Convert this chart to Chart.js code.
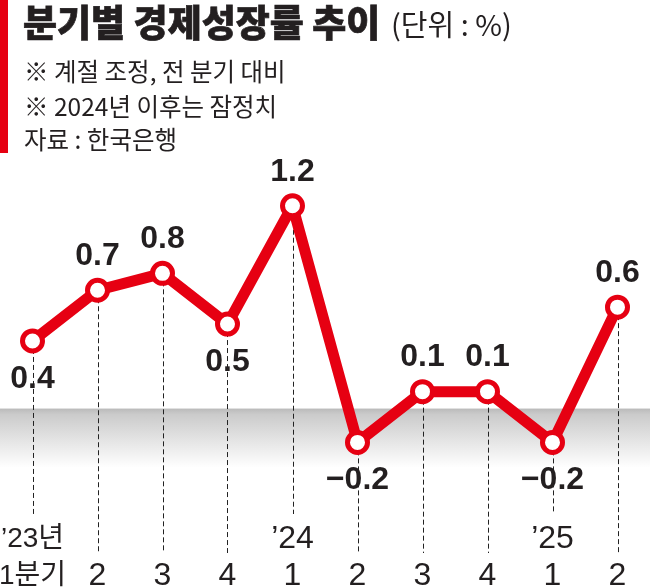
<!DOCTYPE html>
<html><head><meta charset="utf-8">
<script src="https://cdn.jsdelivr.net/npm/chart.js@4.4.1/dist/chart.umd.min.js"></script>
<style>
html,body{margin:0;padding:0;background:#fff;}
#wrap{position:relative;width:650px;height:587px;overflow:hidden;background:#fff;}
canvas{position:absolute;left:0;top:0;}
.h{position:absolute;white-space:nowrap;color:#231f20;font-family:"Noto Sans CJK KR","Noto Sans",sans-serif;}
</style></head><body>
<div id="wrap">
<canvas id="c" width="650" height="614"></canvas>
<div class="h" style="left:0;top:0;width:8px;height:153px;background:#e60012"></div>
<div class="h" style="left:23px;top:-1px;font-size:37px;line-height:44px;font-weight:900;-webkit-text-stroke:0.7px #231f20;">분기별 경제성장률 추이</div>
<div class="h" style="left:391px;top:0;font-size:29px;line-height:46px;">(단위 : %)</div>
<div class="h" style="left:24px;top:56px;font-size:24.5px;line-height:30px;">※ 계절 조정, 전 분기 대비</div>
<div class="h" style="left:24px;top:91px;font-size:24.5px;line-height:30px;">※ 2024년 이후는 잠정치</div>
<div class="h" style="left:24px;top:124px;font-size:24.5px;line-height:30px;">자료 : 한국은행</div>
</div>
<script>
const yearLabels = ['’23년', '', '', '', '’24', '', '', '', '’25', ''];
const quarterLabels = ['1분기', '2', '3', '4', '1', '2', '3', '4', '1', '2'];
const growth = [0.4, 0.7, 0.8, 0.5, 1.2, -0.2, 0.1, 0.1, -0.2, 0.6];

const RED = '#e60012';
const INK = '#231f20';

function fmt(v){ return v < 0 ? '\u2212' + Math.abs(v).toFixed(1) : v.toFixed(1); }

const decor = {
  id: 'decor',
  beforeDatasetsDraw(chart){
    const ctx = chart.ctx, ys = chart.scales.y, xs = chart.scales.x;
    const y0 = ys.getPixelForValue(0), y1 = ys.getPixelForValue(-0.35);
    const g = ctx.createLinearGradient(0, y0, 0, y1);
    g.addColorStop(0, '#bababa');
    g.addColorStop(0.1, '#cbcbcb');
    g.addColorStop(1, '#ffffff');
    ctx.save();
    ctx.fillStyle = g;
    ctx.fillRect(0, y0, chart.width, y1 - y0);
    const meta = chart.getDatasetMeta(0);
    ctx.strokeStyle = '#222';
    ctx.lineWidth = 1;
    ctx.setLineDash([5, 3]);
    meta.data.forEach((pt, i) => {
      const end = yearLabels[i] ? xs.top + 4 : xs.top + 43;
      const px = Math.round(pt.x) + 0.5;
      ctx.beginPath();
      ctx.moveTo(px, pt.y);
      ctx.lineTo(px, end);
      ctx.stroke();
    });
    ctx.restore();
  },
  afterDatasetsDraw(chart){
    const ctx = chart.ctx;
    const meta = chart.getDatasetMeta(0);
    ctx.save();
    ctx.fillStyle = INK;
    ctx.font = 'bold 32px "Liberation Sans", Arial, sans-serif';
    ctx.textAlign = 'center';
    ctx.textBaseline = 'middle';
    meta.data.forEach((pt, i) => {
      const v = growth[i];
      const prev = i > 0 ? growth[i - 1] : Infinity;
      const next = i < growth.length - 1 ? growth[i + 1] : -Infinity;
      const below = v < next && v < prev;
      const y = below ? pt.y + 38 : pt.y - 34;
      ctx.fillText(fmt(v), pt.x, y);
    });
    ctx.restore();
  }
};

new Chart(document.getElementById('c'), {
  type: 'line',
  data: {
    labels: quarterLabels.map((q, i) => [yearLabels[i], q]),
    datasets: [{
      data: growth,
      borderColor: RED,
      borderWidth: 11,
      tension: 0,
      borderJoinStyle: 'round',
      pointRadius: 10,
      pointBorderWidth: 5,
      pointBackgroundColor: '#ffffff',
      pointBorderColor: RED,
      fill: false
    }]
  },
  options: {
    responsive: false,
    animation: false,
    events: [],
    layout: { autoPadding: false, padding: { top: 155, bottom: 8, left: 0, right: 0 } },
    plugins: { legend: { display: false }, tooltip: { enabled: false }, title: { display: false } },
    scales: {
      x: {
        offset: true,
        grid: { display: false, drawTicks: false },
        border: { display: false },
        ticks: {
          padding: 11,
          color: INK,
          autoSkip: false,
          maxRotation: 0,
          font: (c) => c.index === 0
            ? { family: '"Liberation Sans", "Noto Sans CJK KR", sans-serif', size: 28, lineHeight: 37 / 28 }
            : { family: '"Liberation Sans", "Noto Sans CJK KR", sans-serif', size: 32, lineHeight: 37 / 32 }
        },
        afterFit(scale){ scale.paddingLeft = 0; scale.paddingRight = 0; }
      },
      y: { display: false, min: -0.6, max: 1.5 }
    }
  },
  plugins: [decor]
});
</script>
</body></html>
